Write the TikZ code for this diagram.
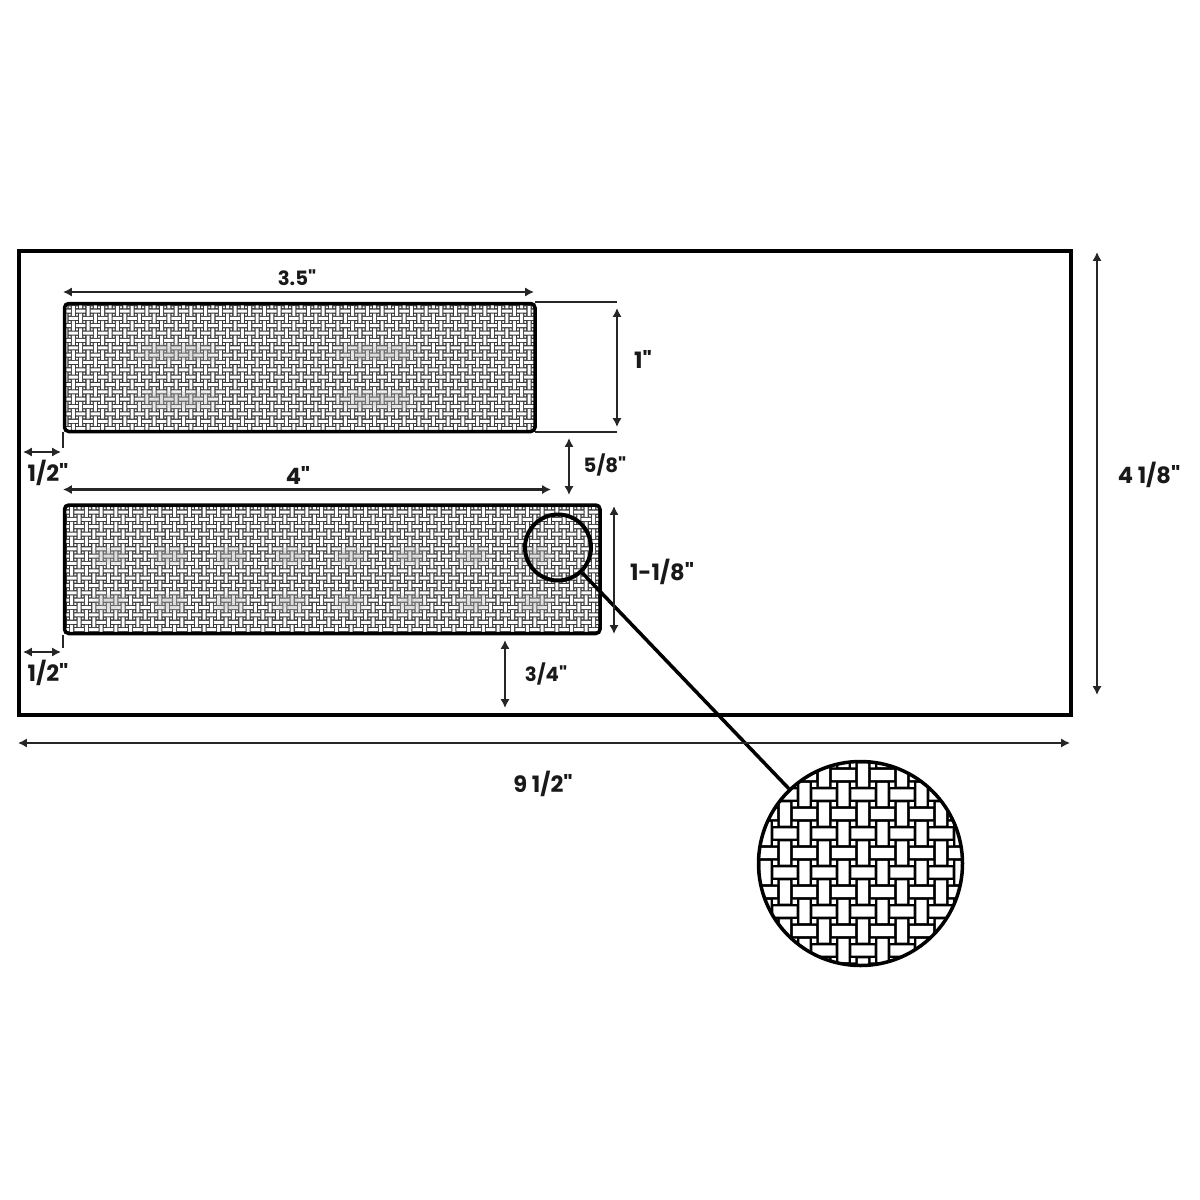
\documentclass[tikz,border=0pt]{standalone}
\usepackage{fontspec}
\newfontfamily\dimfont{Poppins}
\usetikzlibrary{arrows.meta}
\tikzset{
  x=0.01cm,y=-0.01cm,
  px/.style={line width=#1*0.2845pt},
  dimline/.style={px=2.5,draw=black!85,{Latex[length=2.5pt,width=2.6pt]}-{Latex[length=2.5pt,width=2.6pt]}},
  extline/.style={px=2,draw=black!85},
  dimlabel/.style={font=\fontsize{5.6}{7}\dimfont\bfseries,text=black!90,inner sep=0pt},
  widelabel/.style={font=\fontsize{6.4}{8}\dimfont\bfseries,text=black!90,inner sep=0pt},
  pane/.style={draw=black,px=3.5,rounded corners=1.2pt,inner sep=0pt},
  lens/.style={circle,draw=black,inner sep=0pt,fill=none},
  patchfill/.style={fill=black!32,fill opacity=0.16,rounded corners=2pt},
}
% #1 origin x, #2 origin y, #3 cell, #4 bar half length, #5 bar half width, #6 min i, #7 max i, #8 min j, #9 max j
% \wvsq = half size of the small square at the cell corners
\newcommand{\weavebars}[9]{%
  \fill[white]
  \foreach \i in {#6,...,#7}{\foreach \j in {#8,...,#9}{%
    \pgfextra{\pgfmathsetmacro{\cx}{#1+\i*#3}\pgfmathsetmacro{\cy}{#2+\j*#3}\pgfmathtruncatemacro{\wvpar}{mod(abs(\i+\j),2)}%
    \ifnum\wvpar=0 \def\hw{#5}\def\hh{#4}\else\def\hw{#4}\def\hh{#5}\fi
    \pgfmathsetmacro{\ax}{\cx-\hw}\pgfmathsetmacro{\ay}{\cy-\hh}\pgfmathsetmacro{\bx}{\cx+\hw}\pgfmathsetmacro{\by}{\cy+\hh}%
    \pgfmathsetmacro{\sx}{\cx+0.5*#3}\pgfmathsetmacro{\sy}{\cy+0.5*#3}%
    \pgfmathsetmacro{\pax}{\sx-\wvsq}\pgfmathsetmacro{\pay}{\sy-\wvsq}\pgfmathsetmacro{\pbx}{\sx+\wvsq}\pgfmathsetmacro{\pby}{\sy+\wvsq}}
    (\ax,\ay) rectangle (\bx,\by) (\pax,\pay) rectangle (\pbx,\pby)
  }};%
}
% soft grey patch: centre x, centre y, half width, half height
\newcommand{\softpatch}[4]{%
  \fill[patchfill] (#1-#3*1.25,#2-#4*1.25) rectangle (#1+#3*1.25,#2+#4*1.25);
  \fill[patchfill] (#1-#3,#2-#4) rectangle (#1+#3,#2+#4);
  \fill[patchfill] (#1-#3*0.7,#2-#4*0.7) rectangle (#1+#3*0.7,#2+#4*0.7);
}
\begin{document}
\begin{tikzpicture}
\useasboundingbox (0,0) rectangle (1200,1200);
\fill[white] (0,0) rectangle (1200,1200);
% envelope
\node[draw=black,px=4,minimum width=1052*0.01cm,minimum height=464.5*0.01cm,inner sep=0pt] (env) at (545,482.75) {};
% window 1
\begin{scope}
\clip[rounded corners=1.2pt] (64.5,303.5) rectangle (535,431.5);
\fill[black!78] (64.5,303.5) rectangle (535,431.5);
\def\wvsq{0.9}
\weavebars{73.3}{311}{7.35}{4.8}{1.5}{-2}{63}{-1}{17}
\softpatch{177}{352}{34}{8}
\softpatch{177}{400}{34}{8}
\softpatch{377}{352}{34}{8}
\softpatch{377}{400}{34}{8}
\end{scope}
\node[pane,minimum width=470.5*0.01cm,minimum height=128*0.01cm] (win1) at (299.75,367.5) {};
% window 2
\begin{scope}
\clip[rounded corners=1.2pt] (64.5,505) rectangle (600,633.5);
\fill[black!78] (64.5,505) rectangle (600,633.5);
\def\wvsq{0.9}
\weavebars{71.7}{512}{7.35}{4.8}{1.5}{-2}{73}{-1}{17}
\foreach \px in {110,170,230,290,350,410,473,535}{
  \softpatch{\px}{556}{14}{8}
  \softpatch{\px}{603}{14}{8}
}
\end{scope}
\node[pane,minimum width=535.5*0.01cm,minimum height=128.5*0.01cm] (win2) at (332.25,569.25) {};
% big circle
\begin{scope}
\clip (860.5,863.5) circle (102);
\fill[black] (860.5,863.5) circle (102);
\def\wvsq{2.1}
\weavebars{863}{775}{19.5}{11.6}{5.2}{-6}{6}{-1}{10}
\end{scope}
\node[lens,px=4,minimum size=66*0.01cm] (small) at (558,547.5) {};
\node[lens,px=3.5,minimum size=204*0.01cm] (big) at (860.5,863.5) {};
\draw[px=3.5] (small) -- (big);
% coordinates
\coordinate (a1) at (63,292); \coordinate (a2) at (534,292);
\coordinate (b1) at (617,308); \coordinate (b2) at (617,427);
\coordinate (c1) at (569,438); \coordinate (c2) at (569,495);
\coordinate (d1) at (63,489.5); \coordinate (d2) at (551,489.5);
\coordinate (e1) at (614,506); \coordinate (e2) at (614,634);
\coordinate (f1) at (505,640); \coordinate (f2) at (505,708);
\coordinate (g1) at (1097,252); \coordinate (g2) at (1097,695);
\coordinate (h1) at (18,743); \coordinate (h2) at (1070,743);
\coordinate (i1) at (23,452); \coordinate (i2) at (61,452);
\coordinate (j1) at (23,652); \coordinate (j2) at (61,652);
\coordinate (k1) at (535,302); \coordinate (k2) at (617,302);
\coordinate (l1) at (535,432); \coordinate (l2) at (617,432);
\coordinate (m1) at (63,432); \coordinate (m2) at (63,448);
\coordinate (n1) at (63,635); \coordinate (n2) at (63,648);
\draw[dimline] (a1) -- (a2);
\draw[dimline] (b1) -- (b2);
\draw[dimline] (c1) -- (c2);
\draw[dimline] (d1) -- (d2);
\draw[dimline] (e1) -- (e2);
\draw[dimline] (f1) -- (f2);
\draw[dimline] (g1) -- (g2);
\draw[dimline] (h1) -- (h2);
\draw[dimline] (i1) -- (i2);
\draw[dimline] (j1) -- (j2);
\draw[extline] (k1) -- (k2);
\draw[extline] (l1) -- (l2);
\draw[extline] (m1) -- (m2);
\draw[extline] (n1) -- (n2);
% labels
\node[dimlabel] (t1) at (297,278) {3.5"};
\node[widelabel] (t2) at (643,359) {1"};
\node[dimlabel] (t3) at (605,465) {5/8"};
\node[widelabel] (t4) at (298,475) {4"};
\node[widelabel] (t5) at (662,572) {1-1/8"};
\node[dimlabel] (t6) at (546,674) {3/4"};
\node[widelabel] (t7) at (1149,475) {4 1/8"};
\node[widelabel] (t8) at (543,784) {9 1/2"};
\node[widelabel] (t9) at (48,473) {1/2"};
\node[widelabel] (t10) at (48,673) {1/2"};
\end{tikzpicture}
\end{document}
